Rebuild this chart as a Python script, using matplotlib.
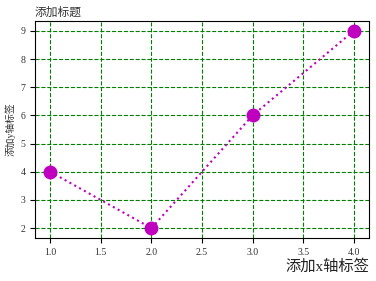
import matplotlib
matplotlib.use("Agg")
import matplotlib.pyplot as plt

x = [1, 2, 3, 4]
y = [4, 2, 6, 9]
title = "添加标题"
xlabel = "添加x轴标签"
ylabel = "添加y轴标签"

plt.rcParams['font.family'] = ['Liberation Serif', 'Noto Sans CJK SC']

fig = plt.figure(figsize=(3.76, 2.81), dpi=100)
ax = fig.add_axes([35/376, 1 - 238/281, (369-35)/376, (238-21)/281])
ax.plot(x, y, color='m', linestyle=':', marker='o', markersize=9)
ax.grid(True, color='green', linestyle='--', linewidth=0.8)
ax.set_title(title, loc='left', fontsize=8.5, family=['Noto Sans CJK SC'], pad=4, color='#333333')
ax.set_xlabel(xlabel, loc='right', fontsize=11, family=['Liberation Serif', 'Noto Sans CJK SC'], labelpad=2, color='#222222')
ax.set_ylabel(ylabel, fontsize=7, family=['Liberation Serif', 'Noto Sans CJK SC'], labelpad=3, color='#333333')
ax.tick_params(labelsize=7, labelcolor='#333333')
ax.set_xticks([1.0, 1.5, 2.0, 2.5, 3.0, 3.5, 4.0])
fig.savefig("out.png", dpi=100)
